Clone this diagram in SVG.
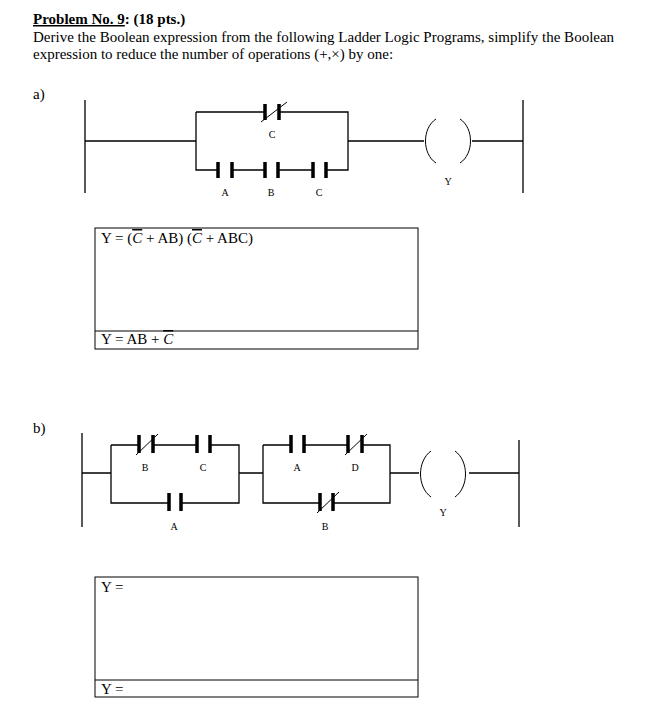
<svg xmlns="http://www.w3.org/2000/svg" width="656" height="724" viewBox="0 0 656 724">
<style>
text{font-family:"Liberation Serif",serif;fill:#000}
.t{font-size:15px}
.l{font-size:10px;text-anchor:middle}
.w{stroke:#000;stroke-width:1.3;fill:none}
.b{stroke:#000;stroke-width:3.5;fill:none}
.s{stroke:#000;stroke-width:1;fill:none}
.i{font-style:italic;text-decoration:overline}
</style>
<rect width="656" height="724" fill="#fff"/>
<text x="33" y="24" class="t" font-weight="bold"><tspan text-decoration="underline">Problem No. 9</tspan>: (18 pts.)</text>
<text x="33" y="42" class="t">Derive the Boolean expression from the following Ladder Logic Programs, simplify the Boolean</text>
<text x="33" y="59" class="t">expression to reduce the number of operations (+,×) by one:</text>
<text x="33" y="99" class="t">a)</text>
<text x="33" y="433" class="t">b)</text>
<g id="connectors">
<path class="w" d="M85 100V193M523 100V193M85 141H196M196 112V170H348V112H196M348 141H425M470 141H523"/>
<path class="w" d="M82 433V527M519 440V527M82 473H111M111 445V503H239V445H111M239 473H263M263 445V503H390V445H263M390 473H420M467 473H519"/>
</g>
<g id="contactsA">
<rect x="266" y="106" width="12" height="12" fill="#fff"/>
<path class="b" d="M265 104V120M279 104V120"/><path class="s" d="M261 122L287 102"/>
<text x="272" y="138" class="l">C</text>
<rect x="219" y="164" width="12" height="12" fill="#fff"/><path class="b" d="M218 162V178M232 162V178"/>
<rect x="266" y="164" width="11" height="12" fill="#fff"/><path class="b" d="M265 162V178M278 162V178"/>
<rect x="314" y="164" width="11" height="12" fill="#fff"/><path class="b" d="M313 162V178M326 162V178"/>
<text x="225" y="196" class="l">A</text><text x="271" y="196" class="l">B</text><text x="319" y="196" class="l">C</text>
</g>
<g id="coilA">
<rect x="424" y="118" width="48" height="48" fill="#fff"/>
<path class="s" d="M436 119C422 128 422 154 436 163M460 119C474 128 474 154 460 163"/>
<text x="448" y="185" class="l">Y</text>
</g>
<g id="contactsB">
<rect x="140" y="438" width="12" height="14" fill="#fff"/><path class="b" d="M139 435V453M153 435V453"/><path class="s" d="M136 455L158 434"/>
<rect x="198" y="438" width="11" height="14" fill="#fff"/><path class="b" d="M197 435V453M210 435V453"/>
<rect x="170" y="496" width="10" height="14" fill="#fff"/><path class="b" d="M169 493V511M181 493V511"/>
<rect x="292" y="438" width="11" height="14" fill="#fff"/><path class="b" d="M291 435V453M304 435V453"/>
<rect x="349" y="438" width="12" height="14" fill="#fff"/><path class="b" d="M348 435V453M362 435V453"/><path class="s" d="M345 455L367 434"/>
<rect x="321" y="496" width="11" height="14" fill="#fff"/><path class="b" d="M320 493V511M333 493V511"/><path class="s" d="M317 513L339 492"/>
<text x="145" y="471" class="l">B</text><text x="203" y="471" class="l">C</text>
<text x="297" y="471" class="l">A</text><text x="355" y="471" class="l">D</text>
<text x="174" y="530" class="l">A</text><text x="325" y="530" class="l">B</text>
</g>
<g id="coilB">
<rect x="419" y="450" width="50" height="50" fill="#fff"/>
<path class="s" d="M431 451C417 461 417 487 431 497M455 451C469 461 469 487 455 497"/>
<text x="443" y="516" class="l">Y</text>
</g>
<g id="boxA">
<rect x="95" y="228" width="323" height="121" class="s"/>
<path class="s" d="M95 331H418"/>
<text x="101" y="243" class="t">Y = (<tspan class="i">C</tspan> + AB) (<tspan class="i">C</tspan> + ABC)</text>
<text x="101" y="344" class="t">Y = AB + <tspan class="i">C</tspan></text>
</g>
<g id="boxB">
<rect x="95" y="577" width="323" height="120" class="s"/>
<path class="s" d="M95 680H418"/>
<text x="101" y="592" class="t">Y =</text>
<text x="101" y="694" class="t">Y =</text>
</g>
</svg>
